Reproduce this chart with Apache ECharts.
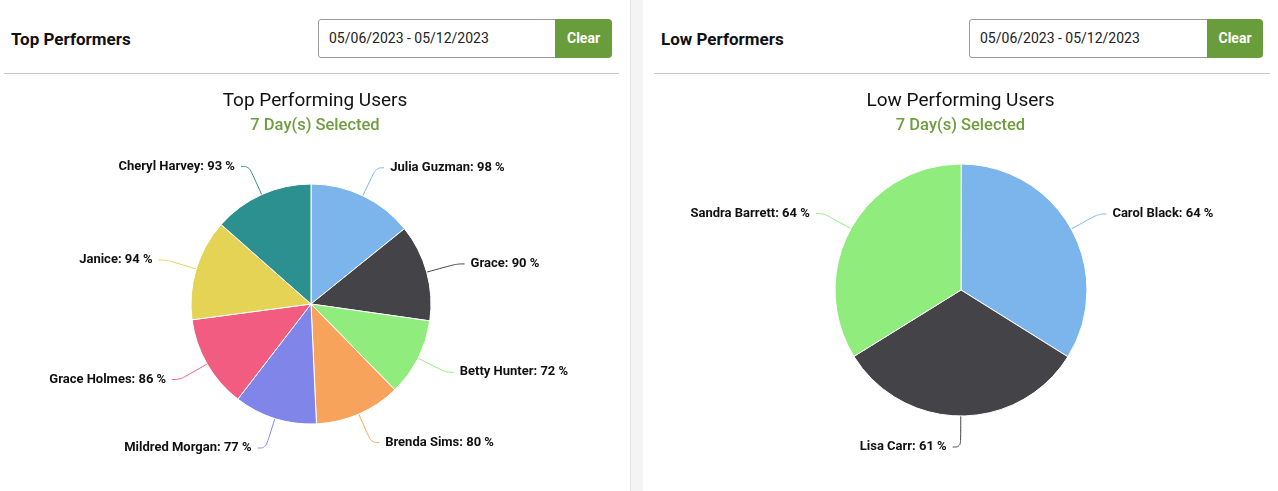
<!DOCTYPE html>
<html>
<head>
<meta charset="utf-8">
<script src="https://cdn.jsdelivr.net/npm/echarts@6/dist/echarts.min.js"></script>
<style>
  body { margin: 0; background: #fff; font-family: Roboto, "Noto Sans", sans-serif; }
  .panel { position: absolute; top: 0; height: 491px; }
  .head { position: absolute; top: 29px; font-size: 17px; font-weight: bold; color: #111; }
  .date { position: absolute; top: 19px; height: 39px; border: 1px solid #9a9a9a; border-radius: 3px 0 0 3px;
          box-sizing: border-box; font-size: 14px; color: #222; line-height: 37px; padding-left: 10px; }
  .btn { position: absolute; top: 19px; height: 39px; background: #699c3b; color: #fff; font-weight: bold;
         font-size: 14px; line-height: 39px; text-align: center; border-radius: 0 4px 4px 0; }
  .rule { position: absolute; top: 73px; height: 1px; background: #c8c8c8; }
  .chart { position: absolute; top: 74px; height: 417px; }
  #divider { position: absolute; left: 630px; width: 13px; top: 0; height: 491px; background: #f4f4f4;
             border-left: 1px solid #e6e6e6; box-sizing: border-box; }
</style>
</head>
<body>
<div class="panel" style="left:0;width:630px;">
  <div class="head" style="left:11px;">Top Performers</div>
  <div class="date" style="left:318px;width:238px;">05/06/2023 - 05/12/2023</div>
  <div class="btn" style="left:555px;width:57px;">Clear</div>
  <div class="rule" style="left:4px;width:615px;"></div>
  <div class="chart" id="top_chart" style="left:0;width:630px;"></div>
</div>
<div id="divider"></div>
<div class="panel" style="left:643px;width:635px;">
  <div class="head" style="left:18px;">Low Performers</div>
  <div class="date" style="left:326px;width:239px;">05/06/2023 - 05/12/2023</div>
  <div class="btn" style="left:564px;width:56px;">Clear</div>
  <div class="rule" style="left:11px;width:616px;"></div>
  <div class="chart" id="low_chart" style="left:0;width:635px;"></div>
</div>

<script>
// chart data
const topNames = ['Julia Guzman', 'Grace', 'Betty Hunter', 'Brenda Sims', 'Mildred Morgan', 'Grace Holmes', 'Janice', 'Cheryl Harvey'];
const topValues = [98, 90, 72, 80, 77, 86, 94, 93];
const lowNames = ['Carol Black', 'Lisa Carr', 'Sandra Barrett'];
const lowValues = [64, 61, 64];
const palette = ['#7cb5ec', '#434348', '#90ed7d', '#f7a35c', '#8085e9', '#f15c80', '#e4d354', '#2b908f'];

function makeOption(title, names, values, center, radius, startAngle) {
    return {
        color: palette,
        animation: false,
        title: [
            {
                text: title,
                left: 'center',
                top: 13,
                textStyle: { fontFamily: 'Roboto', fontSize: 19, fontWeight: 'normal', color: '#111' }
            },
            {
                text: '7 Day(s) Selected',
                left: 'center',
                top: 38,
                textStyle: { fontFamily: 'Roboto', fontSize: 16.5, fontWeight: 500, color: '#6f9e3f' }
            }
        ],
        series: [
            {
                type: 'pie',
                center: center,
                radius: radius,
                startAngle: startAngle,
                clockwise: true,
                data: names.map(function (n, i) { return { name: n, value: values[i] }; }),
                itemStyle: { borderColor: '#fff', borderWidth: 1 },
                label: {
                    show: true,
                    position: 'outside',
                    formatter: '{b}: {c} %',
                    fontFamily: 'Roboto',
                    fontSize: 13,
                    fontWeight: 'bold',
                    color: '#111',
                    distanceToLabelLine: 6
                },
                labelLine: { show: true, smooth: 0.4, length: 31, length2: 8, lineStyle: { width: 1 } },
                emphasis: { disabled: true }
            }
        ]
    };
}

let topChart = echarts.init(document.getElementById('top_chart'));
topChart.setOption(makeOption('Top Performing Users', topNames, topValues, [311, 230], 120, 90));
let lowChart = echarts.init(document.getElementById('low_chart'));
lowChart.setOption(makeOption('Low Performing Users', lowNames, lowValues, [318, 216], 126, 89.9));
window.addEventListener('resize', function () {
    topChart.resize();
    lowChart.resize();
});
</script>
</body>
</html>
